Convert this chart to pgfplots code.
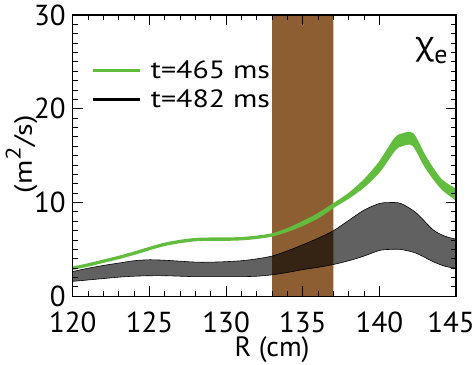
\documentclass[border=0pt]{standalone}
\usepackage{fontspec}
\setmainfont{PT Sans}
\newfontfamily\gk{Noto Sans}
\newfontfamily\wide[FakeStretch=1.2]{PT Sans}
\usepackage{pgfplots}
\pgfplotsset{compat=1.18}
\usepgfplotslibrary{fillbetween}
\definecolor{gr}{RGB}{98,188,62}
\definecolor{br}{RGB}{141,94,50}
\begin{document}
\begin{tikzpicture}
\begin{axis}[
  set layers,
  scale only axis, width=384pt, height=282pt,
  xmin=120, xmax=145, ymin=0, ymax=30,
  xtick={120,125,...,140}, ytick={0,10,20,30},
  extra x ticks={145},
  extra x tick style={xticklabel style={xshift=-5pt}},
  minor x tick num=4, minor y tick num=9,
  tick align=inside, tick pos=both,
  major tick length=10pt, minor tick length=5pt,
  every tick/.style={black, line width=1pt},
  axis line style={line width=1.3pt},
  axis on top,
  /pgf/number format/assume math mode=true,
  tick label style={font=\fontsize{29}{29}\selectfont, inner sep=1pt},
  xticklabel style={yshift=-14pt},
  yticklabel style={xshift=-6pt},
  xlabel={R (cm)},
  ylabel={\wide(m\raisebox{0.45em}{\fontsize{21}{21}\selectfont 2}/s)},
  xlabel style={font=\fontsize{28}{28}\selectfont, at={(axis description cs:0.52,-0.142)}, anchor=north, inner sep=0.5pt},
  ylabel style={font=\fontsize{25}{25}\selectfont, at={(axis description cs:-0.134,0.505)}, anchor=center, inner sep=1pt},
  legend cell align=left,
  legend style={draw=none, fill=none, at={(axis description cs:0.047,0.845)}, anchor=north west,
    font=\wide\fontsize{25}{25}\selectfont, row sep=6pt, column sep=7pt, inner sep=0pt},
  legend image code/.code={\draw[#1, line width=3pt] (0pt,0pt) -- (48pt,0pt);},
]
\addlegendimage{gr}
\addlegendentry{t=465 ms}
\addlegendimage{black}
\addlegendentry{t=482 ms}

\addplot[fill=br, draw=none, forget plot, on layer=axis background] coordinates {(133,0) (137,0) (137,30) (133,30)} \closedcycle;

% gray band t=482
\addplot[name path=gu, black, line width=0.6pt, smooth, forget plot] coordinates {
(120,2.65)(121,3.0)(122,3.3)(123,3.55)(124,3.8)(125,3.9)(126,3.85)(127,3.75)(128,3.65)(129,3.65)(130,3.7)(131,3.8)(132,4.0)(133,4.3)(134,4.85)(135,5.5)(136,6.2)(137,7.0)(138,8.1)(139,9.2)(140,9.9)(140.6,10.0)(141.4,9.9)(142.4,8.9)(143.5,7.1)(144.3,6.4)(145,6.1)};
\addplot[name path=gl, black, line width=0.6pt, smooth, forget plot] coordinates {
(120,1.6)(121,1.75)(122,1.9)(123,2.05)(124,2.15)(125,2.2)(126,2.2)(127,2.15)(128,2.1)(129,2.1)(130,2.1)(131,2.1)(132,2.15)(133,2.3)(134,2.55)(135,2.85)(136,3.1)(137,3.4)(138,3.8)(139,4.3)(140,4.9)(140.6,5.0)(141.4,5.0)(142.4,4.6)(143.5,3.7)(144.3,3.2)(145,3.0)};
\addplot[black, fill opacity=0.62, forget plot] fill between[of=gu and gl];

% green band t=465
\addplot[name path=hu, gr, line width=1.5pt, smooth, forget plot] coordinates {
(120,3.1)(121,3.45)(122,3.85)(123,4.25)(124,4.7)(125,5.2)(126,5.65)(127,5.95)(128,6.15)(129,6.2)(130,6.2)(131,6.25)(132,6.4)(133,6.65)(134,7.2)(135,7.95)(136,8.8)(137,9.85)(138,10.95)(139,12.4)(140,14.3)(141,16.8)(141.5,17.3)(142.2,17.3)(143,14.9)(144,12.5)(145,11.4)};
\addplot[name path=hl, gr, line width=1.5pt, smooth, forget plot] coordinates {
(120,2.9)(121,3.25)(122,3.65)(123,4.05)(124,4.5)(125,5.0)(126,5.45)(127,5.75)(128,5.95)(129,6.0)(130,6.0)(131,6.05)(132,6.2)(133,6.45)(134,6.95)(135,7.6)(136,8.4)(137,9.5)(138,10.5)(139,11.7)(140,13.3)(141,15.6)(141.5,16.1)(142.2,16.1)(143,13.8)(144,11.6)(145,10.3)};
\addplot[gr, forget plot] fill between[of=hu and hl];

\node[anchor=center, font=\fontsize{32}{32}\selectfont] at (axis cs:143.4,26.2) {{\gk χ}\raisebox{-0.3em}{\fontsize{26}{26}\selectfont e}};
\end{axis}
\pgfresetboundingbox
\path (current axis.south west) ++(-73pt,-68pt) coordinate (bbl);
\path (current axis.north east) ++(18pt,15pt) coordinate (btr);
\useasboundingbox (bbl) rectangle (btr);
\end{tikzpicture}
\end{document}
